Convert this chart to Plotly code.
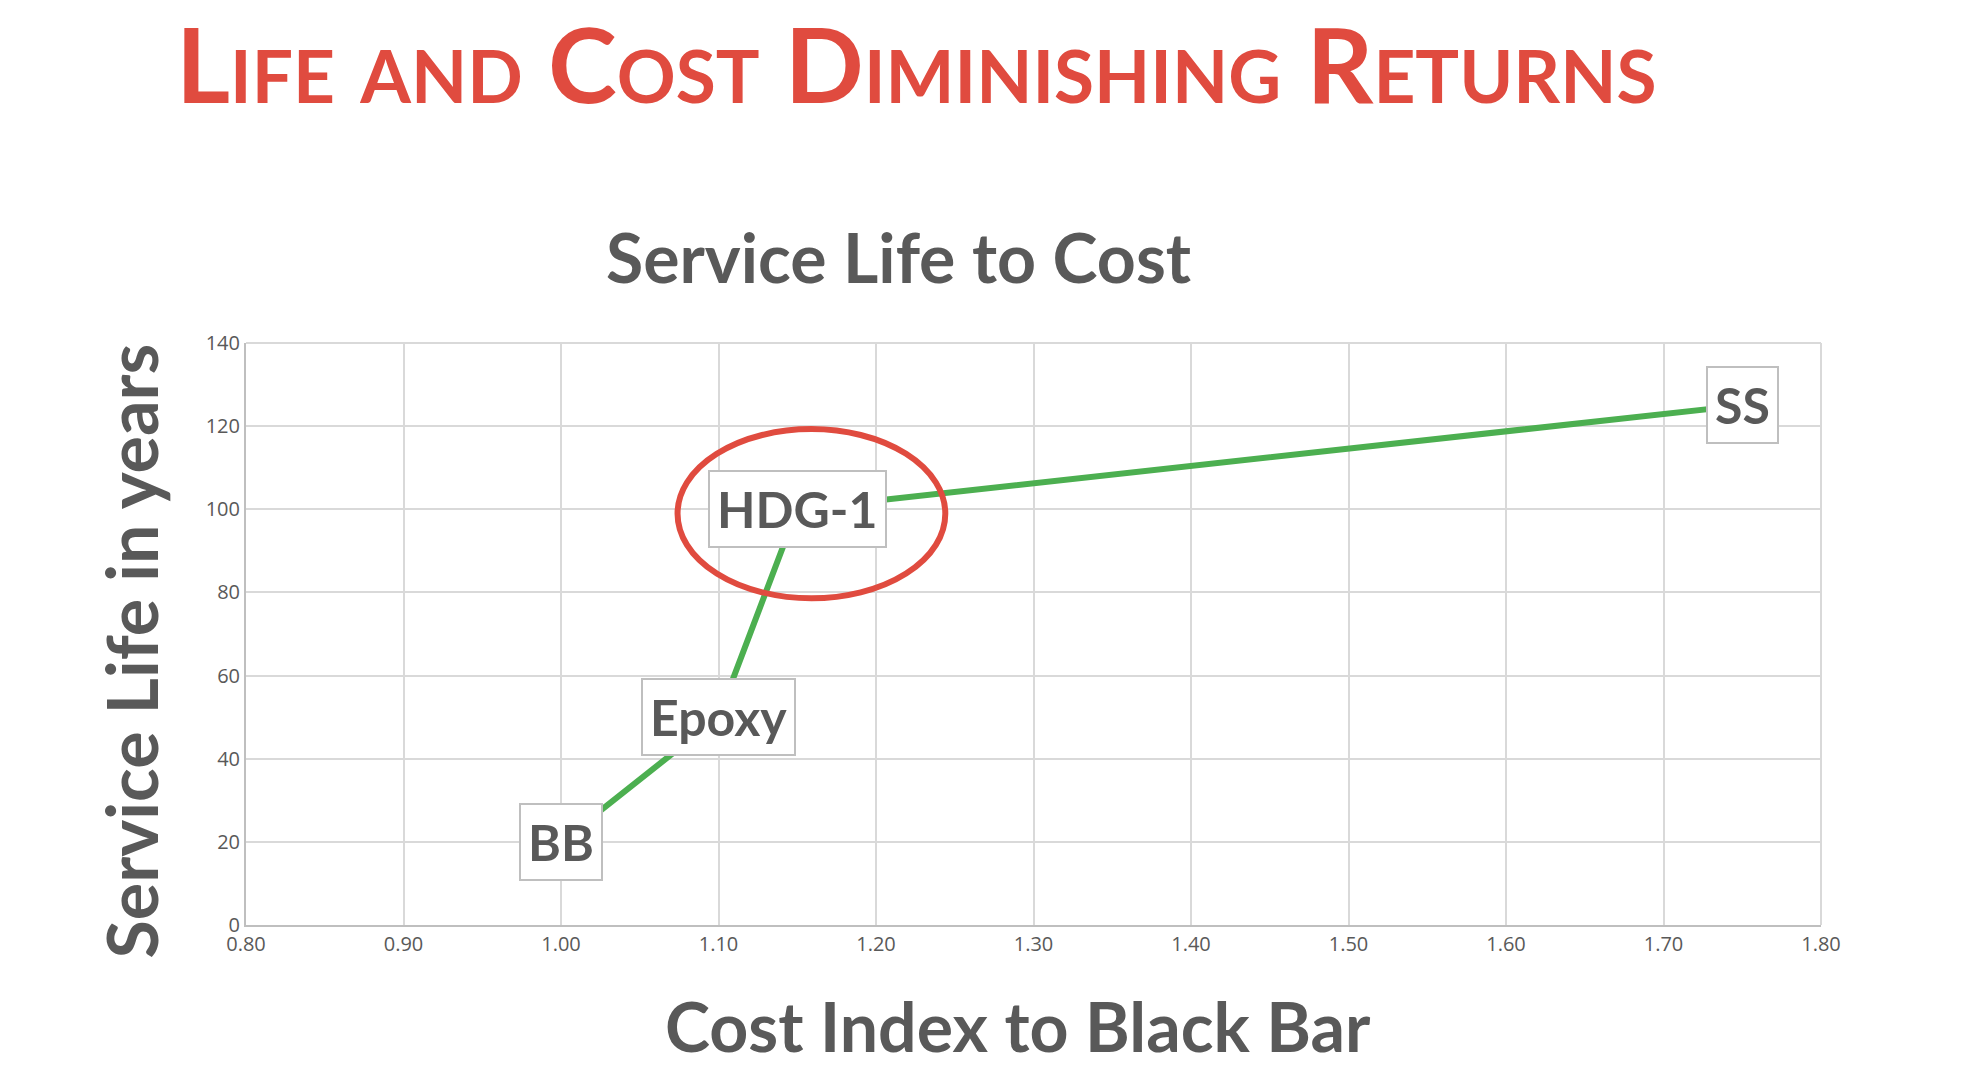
import plotly.graph_objects as go

names = ["BB", "Epoxy", "HDG-1", "SS"]
cost_index = [1.00, 1.10, 1.15, 1.75]
service_life = [20, 50, 100, 125]

GRAY = "#595959"
fig = go.Figure()
fig.add_trace(go.Scatter(x=cost_index, y=service_life, mode="lines",
                         line=dict(color="#4CAF50", width=6), hoverinfo="skip"))
for n, x, y in zip(names, cost_index, service_life):
    fig.add_annotation(x=x, y=y, text=n, showarrow=False, bgcolor="white",
                       bordercolor="#BFBFBF", borderwidth=2, borderpad=7,
                       font=dict(family="Lato", size=50, color=GRAY, weight="bold"))
fig.add_shape(type="circle", xref="x", yref="y", x0=1.074, x1=1.244, y0=78.6, y1=119.3,
              line=dict(color="#E04B3F", width=6), layer="above")
fig.add_annotation(xref="paper", yref="paper", x=0.414, y=1.148, text="Service Life to Cost",
                   showarrow=False, yanchor="middle",
                   font=dict(family="Lato", size=68, color=GRAY, weight="bold"))
fig.add_annotation(xref="paper", yref="paper", x=0.49, y=-0.172, text="Cost Index to Black Bar",
                   showarrow=False, yanchor="middle",
                   font=dict(family="Lato", size=68, color=GRAY, weight="bold"))
fig.add_annotation(xref="paper", yref="paper", x=-0.073, y=0.47, text="Service Life in years",
                   showarrow=False, yanchor="middle", xanchor="center", textangle=-90,
                   font=dict(family="Lato", size=70, color=GRAY, weight="bold"))
fig.update_layout(
    width=1966, height=1074, paper_bgcolor="white", plot_bgcolor="white",
    margin=dict(l=238, r=153, t=335, b=157, autoexpand=False), showlegend=False,
    title=dict(text="Life and Cost Diminishing Returns", x=0.462, xanchor="center",
               y=0.945, yanchor="middle",
               font=dict(family="Lato", size=104, color="#E04B3F", weight="bold", variant="small-caps")),
    xaxis=dict(range=[0.8, 1.8], dtick=0.1, tickformat=".2f", showgrid=True, gridcolor="#D9D9D9",
               gridwidth=2, showline=True, linecolor="#BFBFBF", linewidth=2, zeroline=False,
               tickfont=dict(family="Open Sans", size=20, color=GRAY), ticks="", automargin=False),
    yaxis=dict(range=[0, 140], dtick=20, showgrid=True, gridcolor="#D9D9D9", gridwidth=2,
               showline=True, linecolor="#BFBFBF", linewidth=2, zeroline=False, automargin=False,
               tickfont=dict(family="Open Sans", size=20, color=GRAY)),
)
fig.add_shape(type="line", xref="paper", yref="paper", x0=1, x1=1, y0=0, y1=1,
              line=dict(color="#D9D9D9", width=2))
fig.add_shape(type="line", xref="paper", yref="paper", x0=0, x1=1, y0=1, y1=1,
              line=dict(color="#D9D9D9", width=2))
fig.write_html("out.html")
